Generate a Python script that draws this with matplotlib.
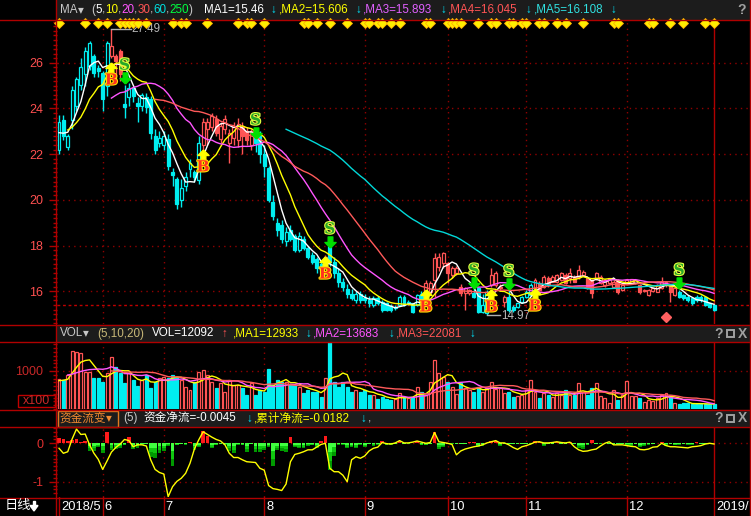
import numpy as np
import pandas as pd
import matplotlib
matplotlib.use("Agg")
import matplotlib.pyplot as plt
import matplotlib.patheffects as pe
from matplotlib.patches import Rectangle, Polygon
from matplotlib.path import Path
from matplotlib.transforms import offset_copy
from matplotlib.ticker import MultipleLocator

# ---- daily bars, 2018/5 .. 2019/1 (index 0..150) ----
opens = [
    22.2, 23.5, 22.3, 23.5, 24.1, 25.05, 25.5, 25.85, 26.29, 25.78,
    25.56, 24.98, 26.3, 26.3, 26.5, 24.2, 24.5, 24.9, 24.25, 24.1,
    24.5, 24.4, 22.8, 22.5, 22.4, 22.65, 21.2, 20.9, 20.0, 20.6,
    21.35, 21.2, 20.85, 22.4, 23.1, 23.2, 23.53, 22.65, 23.09, 22.5,
    22.7, 22.6, 23.2, 23.0, 22.4, 22.9, 22.8, 22.0, 21.4, 19.9,
    19.0, 18.9, 18.2, 18.7, 18.4, 17.8, 18.3, 17.9, 17.6, 17.4,
    17.2, 16.8, 18.0, 17.3, 16.8, 16.4, 16.1, 15.9, 15.6, 15.9,
    15.7, 15.6, 15.4, 15.7, 15.55, 15.47, 15.36, 15.26, 15.4, 15.77,
    15.47, 15.47, 15.4, 15.9, 15.84, 15.98, 16.49, 17.08, 17.22, 17.22,
    16.71, 16.79, 16.2, 15.91, 15.91, 15.91, 16.13, 15.11, 15.05, 16.28,
    16.28, 16.13, 15.55, 15.77, 15.33, 15.33, 15.55, 15.77, 15.84, 16.13,
    16.35, 16.2, 16.57, 16.42, 16.42, 16.49, 16.71, 16.57, 16.64, 16.64,
    16.71, 16.57, 16.49, 16.57, 16.35, 16.28, 16.35, 16.2, 16.49, 16.06,
    16.32, 16.35, 16.35, 16.28, 16.0, 15.84, 16.0, 15.98, 16.13, 16.28,
    16.28, 15.84, 15.98, 15.84, 15.77, 15.69, 15.77, 15.77, 15.77, 15.47,
    15.4]
highs = [
    23.7, 23.7, 22.9, 25.0, 25.4, 26.2, 26.7, 26.95, 26.4, 25.9,
    25.64, 26.95, 27.49, 26.4, 26.6, 25.05, 25.1, 25.0, 24.5, 24.7,
    24.7, 24.54, 23.1, 23.0, 23.0, 22.9, 21.4, 21.0, 20.9, 21.2,
    21.8, 21.3, 22.8, 23.6, 23.6, 23.8, 23.7, 23.4, 23.7, 23.1,
    23.4, 23.6, 23.4, 23.2, 23.1, 22.85, 23.0, 22.4, 21.5, 20.2,
    19.2, 19.1, 18.8, 18.9, 18.5, 18.6, 18.4, 18.0, 17.7, 17.5,
    17.3, 17.6, 18.1, 17.5, 17.0, 16.6, 16.3, 16.1, 16.0, 16.0,
    15.9, 15.8, 15.8, 15.8, 15.6, 15.55, 15.45, 15.38, 15.85, 15.85,
    15.6, 15.5, 15.9, 16.0, 16.5, 16.45, 17.66, 17.66, 17.73, 17.3,
    17.1, 17.1, 16.3, 16.2, 16.1, 16.13, 16.2, 15.9, 16.05, 17.0,
    16.9, 16.3, 15.85, 16.06, 15.4, 15.5, 15.8, 16.05, 16.35, 16.6,
    16.45, 16.7, 16.65, 16.7, 16.75, 16.85, 16.8, 17.0, 16.7, 17.15,
    16.95, 16.6, 16.55, 16.85, 16.7, 16.55, 16.6, 16.5, 16.55, 16.32,
    16.55, 16.55, 16.55, 16.3, 16.1, 16.1, 16.2, 16.32, 16.64, 16.45,
    16.3, 16.2, 16.05, 15.9, 15.85, 15.75, 15.82, 15.82, 15.8, 15.5,
    15.45]
lows = [
    22.0, 22.6, 22.2, 23.1, 23.9, 24.8, 25.0, 25.7, 25.4, 25.4,
    23.89, 24.54, 26.2, 25.3, 25.2, 23.6, 24.1, 24.3, 23.4, 23.9,
    23.8, 22.65, 22.0, 22.3, 22.2, 21.3, 20.6, 19.6, 19.7, 20.4,
    21.0, 20.8, 20.7, 22.2, 22.4, 23.0, 22.8, 22.5, 22.9, 21.6,
    22.4, 22.3, 22.0, 22.4, 22.2, 22.1, 21.6, 21.0, 19.9, 19.1,
    18.4, 18.1, 18.0, 18.2, 17.7, 17.7, 17.8, 17.4, 17.2, 16.8,
    16.8, 16.7, 17.1, 16.6, 16.2, 16.0, 15.7, 15.6, 15.5, 15.5,
    15.5, 15.3, 15.3, 15.4, 15.1, 15.15, 15.1, 15.2, 15.35, 15.35,
    15.4, 15.05, 15.35, 15.5, 15.7, 15.9, 15.77, 16.9, 17.0, 16.35,
    16.6, 16.7, 15.8, 15.18, 15.85, 15.7, 15.05, 15.04, 14.97, 16.2,
    16.2, 16.0, 15.33, 15.11, 15.1, 15.25, 15.5, 15.7, 15.8, 16.05,
    16.0, 16.15, 16.2, 16.4, 16.35, 16.45, 16.3, 16.35, 16.4, 16.55,
    16.65, 16.1, 15.69, 16.5, 16.3, 16.2, 16.3, 16.15, 15.9, 16.0,
    16.3, 16.3, 16.3, 15.9, 15.95, 15.8, 15.95, 15.95, 16.1, 16.2,
    15.55, 15.8, 15.7, 15.6, 15.55, 15.4, 15.55, 15.55, 15.35, 15.28,
    15.15]
closes = [
    23.4, 22.8, 22.8, 24.8, 25.3, 25.8, 26.5, 26.87, 25.56, 25.64,
    24.4, 26.87, 26.75, 26.1, 25.5, 24.05, 24.9, 24.55, 24.1, 24.6,
    24.05, 22.94, 22.2, 22.72, 22.8, 21.5, 21.1, 19.8, 20.5, 21.0,
    21.6, 21.0, 22.5, 23.4, 23.4, 23.67, 22.94, 23.23, 23.53, 22.94,
    23.2, 23.3, 22.8, 22.6, 23.0, 22.5, 22.0, 21.5, 20.0, 19.3,
    18.7, 18.3, 18.6, 18.3, 17.8, 18.4, 17.9, 17.5, 17.3, 17.0,
    16.9, 17.5, 17.3, 16.8, 16.4, 16.2, 15.9, 15.7, 15.9, 15.6,
    15.6, 15.5, 15.7, 15.5, 15.18, 15.18, 15.18, 15.33, 15.77, 15.4,
    15.55, 15.11, 15.84, 15.55, 16.35, 16.35, 17.44, 17.52, 17.66, 16.79,
    17.0, 17.0, 15.91, 16.13, 16.06, 15.77, 15.11, 15.4, 15.98, 16.71,
    16.79, 16.2, 15.77, 15.18, 15.18, 15.47, 15.77, 15.98, 16.28, 16.49,
    16.06, 16.64, 16.28, 16.64, 16.71, 16.79, 16.35, 16.79, 16.42, 16.93,
    16.86, 16.13, 15.91, 16.79, 16.64, 16.49, 16.57, 16.42, 15.98, 16.28,
    16.49, 16.52, 16.49, 15.98, 16.06, 16.06, 16.13, 16.28, 16.42, 16.42,
    15.98, 16.13, 15.77, 15.69, 15.62, 15.47, 15.62, 15.62, 15.4, 15.33,
    15.18]
# volume in x100 units
volumes = [
    781, 763, 895, 1526, 1509, 1465, 982, 982, 807, 807,
    719, 939, 1360, 1114, 939, 675, 939, 763, 605, 763,
    895, 544, 719, 807, 851, 807, 895, 851, 763, 588,
    500, 719, 982, 1026, 895, 719, 544, 675, 456, 763,
    632, 632, 544, 368, 675, 368, 500, 456, 1044, 632,
    763, 719, 719, 632, 632, 588, 412, 500, 456, 456,
    325, 807, 1900, 719, 588, 719, 588, 456, 500, 456,
    500, 368, 368, 263, 325, 263, 237, 254, 412, 307,
    280, 307, 588, 456, 368, 719, 1289, 939, 851, 719,
    588, 395, 693, 544, 500, 456, 588, 456, 544, 719,
    518, 544, 430, 456, 325, 342, 368, 500, 763, 456,
    280, 412, 370, 325, 412, 368, 500, 368, 368, 693,
    456, 368, 544, 675, 342, 280, 167, 500, 237, 368,
    737, 330, 330, 290, 180, 230, 215, 290, 380, 420,
    362, 150, 140, 145, 150, 137, 130, 140, 125, 131,
    120.92]
# 资金净流 (bars) and 累计净流 (line)
flow_bars = [
    0.15, 0.12, 0.05, 0.08, 0.10, 0.04, 0.05, -0.20, -0.20, -0.10,
    -0.25, 0.30, -0.17, -0.15, -0.12, -0.05, 0.17, -0.15, -0.12, -0.04,
    -0.03, -0.35, -0.38, -0.25, -0.20, -0.08, -0.60, -0.05, -0.03, -0.04,
    0.04, -0.18, -0.10, 0.33, 0.20, -0.13, -0.05, -0.03, -0.04, -0.20,
    -0.25, -0.04, -0.05, -0.22, -0.02, -0.23, -0.22, -0.18, -0.10, -0.60,
    -0.18, -0.20, -0.22, 0.16, -0.10, -0.13, -0.13, -0.06, -0.05, -0.12,
    0.05, 0.18, -0.70, -0.33, -0.04, -0.04, -0.13, -0.10, -0.13, -0.04,
    -0.10, -0.02, -0.08, -0.04, 0.05, -0.05, -0.04, -0.02, 0.05, -0.02,
    -0.01, 0.01, 0.06, -0.05, -0.05, -0.02, 0.30, -0.15, -0.10, -0.02,
    -0.01, -0.03, -0.02, -0.02, 0.03, 0.03, -0.10, -0.08, 0.02, 0.06,
    0.05, -0.08, -0.02, -0.02, -0.03, -0.02, -0.02, -0.02, -0.01, 0.05,
    0.04, -0.06, -0.02, -0.02, 0.04, -0.02, -0.02, 0.03, -0.03, -0.12,
    -0.14, -0.05, 0.08, -0.02, -0.01, 0.02, -0.02, -0.02, -0.02, -0.03,
    -0.08, -0.06, -0.02, -0.10, -0.06, -0.04, -0.03, 0.02, 0.03, -0.06,
    -0.03, -0.05, -0.04, -0.03, -0.04, -0.04, 0.04, -0.02, -0.02, -0.01,
    -0.0045]
flow_line = [
    -0.13, -0.26, -0.22, 0.11, 0.37, 0.23, 0.24, -0.04, -0.26, -0.42,
    -0.68, -0.46, -0.23, -0.11, -0.02, 0.10, 0.07, -0.09, -0.04, -0.04,
    -0.07, -0.43, -0.68, -0.76, -0.80, -1.39, -1.13, -0.99, -0.91, -0.78,
    -0.52, -0.15, 0.09, 0.30, 0.23, 0.16, 0.10, 0.06, -0.04, -0.26,
    -0.37, -0.37, -0.43, -0.48, -0.49, -0.50, -0.65, -0.70, -1.10, -1.18,
    -1.20, -1.23, -1.06, -0.48, -0.29, -0.26, -0.22, -0.17, -0.17, -0.10,
    -0.03, 0.00, -0.65, -0.74, -0.74, -0.83, -1.00, -0.43, -0.35, -0.39,
    -0.33, -0.20, -0.13, -0.10, 0.02, -0.01, -0.02, 0.01, 0.07, 0.01,
    0.01, 0.03, 0.06, 0.03, 0.00, 0.02, 0.28, 0.04, 0.02, 0.00,
    -0.03, -0.30, -0.20, -0.15, -0.12, -0.09, -0.07, -0.04, 0.01, 0.04,
    0.07, 0.01, 0.01, -0.04, -0.11, -0.16, -0.09, -0.06, -0.02, 0.03,
    0.04, 0.01, 0.01, 0.02, 0.04, 0.02, 0.01, 0.03, -0.09, -0.17,
    -0.21, -0.20, -0.17, -0.15, -0.07, 0.00, 0.04, -0.04, -0.04, -0.04,
    -0.06, -0.08, -0.09, -0.16, -0.17, -0.15, -0.10, -0.09, 0.00, -0.06,
    -0.09, -0.09, -0.10, -0.11, -0.12, -0.09, -0.08, -0.06, -0.02, 0.00,
    -0.0182]

# bars before the visible window (feed the moving averages)
hidden_closes = [23.6, 23.3, 23.4, 22.9, 22.6, 23.0, 22.8]
hidden_volumes = [1300, 1150, 1117, 700, 780, 720, 744]

ma_windows = [5, 10, 20, 30, 60]
vol_windows = [5, 10, 20]

buy_idx = [12, 33, 61, 84, 99, 109]
buy_arrow = [25.77, 21.97, 17.28, 15.84, 15.84, 15.88]
sell_idx = [15, 45, 62, 95, 103, 142]
sell_arrow = [25.33, 22.93, 18.16, 16.35, 16.30, 16.35]
diamond_idx = [0, 6, 9, 11, 14, 15, 16, 17, 18, 20, 26, 28, 29, 34, 41, 43, 44,
               47, 56, 57, 59, 62, 66, 70, 71, 73, 74, 76, 78, 84, 85, 89, 90,
               91, 92, 96, 99, 100, 103, 104, 106, 107, 110, 111, 114, 116, 120,
               127, 128, 135, 136, 140, 143, 148, 150]
pink_mark = (139, 14.88)
ref_level = 15.40
high_mark = (12, 27.49)
low_mark = (98, 14.97)

month_idx = [0, 10, 24, 47, 70, 89, 107, 130, 150]
month_labels = ["2018/5", "6", "7", "8", "9", "10", "11", "12", "2019/"]
price_ticks = [16, 18, 20, 22, 24, 26]

# ---- colours ----
RED = "#ff5454"
CYAN = "#00eef0"
BORDER = "#b00000"
GRID = "#900000"
LBL = "#ff5050"
ma_colors = ["#ffffff", "#ffff00", "#ff55ff", "#ff5a5a", "#00d8d8"]
vol_colors = ["#ffff00", "#ff55ff", "#ff5a5a"]
HF = ["Liberation Sans", "Noto Sans CJK SC", "DejaVu Sans"]

W, H = 751, 516
fig = plt.figure(figsize=(W / 100, H / 100), dpi=100)
fig.patch.set_facecolor("black")
n = len(closes)
x = np.arange(n)


def fline(xs, ys, color=BORDER, lw=1.0, **kw):
    fig.add_artist(plt.Line2D([v / W for v in xs], [1 - v / H for v in ys],
                              color=color, lw=lw, transform=fig.transFigure, **kw))


def panel(top, bottom):
    ax = fig.add_axes([57 / W, 1 - bottom / H, (749 - 57) / W, (bottom - top) / H])
    ax.set_facecolor("black")
    for s in ax.spines.values():
        s.set_visible(False)
    ax.set_xlim((57 - 59) / 4.367, (749 - 59) / 4.367)
    ax.tick_params(axis="x", which="both", bottom=False, labelbottom=False)
    ax.tick_params(axis="y", which="major", length=6, width=1, color=BORDER,
                   labelcolor=LBL, labelsize=9, pad=4)
    ax.tick_params(axis="y", which="minor", length=3, width=1, color=BORDER)
    return ax


def month_grid(ax):
    for m in month_idx[1:-1]:
        ax.axvline(m, color=GRID, lw=1, ls=(0, (1, 3)), zorder=0)
    ax.axvline(month_idx[-1], color=BORDER, lw=1, zorder=0)


state = []
cur = "sell"
for i in range(n):
    if i in buy_idx:
        cur = "buy"
    if i in sell_idx:
        cur = "sell"
    state.append(cur)
kcol = [RED if s == "buy" else CYAN for s in state]

# ---- main price panel ----
ax = panel(20, 324)
ax.set_ylim(14.569, 27.873)
ax.set_yticks(price_ticks)
ax.set_yticklabels([str(t) for t in price_ticks], family=HF)
ax.yaxis.set_minor_locator(MultipleLocator(0.2))
for t in price_ticks:
    ax.axhline(t, color=GRID, lw=1, ls=(0, (1, 3)), zorder=0)
ax.axhline(ref_level, color="#c00000", lw=1, ls=(0, (2, 2)), zorder=0)
month_grid(ax)

o = np.array(opens); c = np.array(closes)
ax.vlines(x, lows, highs, colors=kcol, lw=1, zorder=2)
up = c >= o
ax.bar(x, np.maximum(np.abs(c - o), 0.03), bottom=np.minimum(o, c), width=0.68,
       color=["black" if u else k for u, k in zip(up, kcol)], edgecolor=kcol,
       lw=0.9, zorder=3)

allc = pd.Series(hidden_closes + closes)
k0 = len(hidden_closes)
for w, col in zip(ma_windows, ma_colors):
    ma = allc.rolling(w).mean().to_numpy()[k0:]
    ax.plot(x, ma, color=col, lw=1, zorder=4)

ax.plot(diamond_idx, [0.99] * len(diamond_idx), ls="none", marker="D", ms=5.5,
        mfc="#ffee00", mec="#ffb000", mew=0.6, transform=ax.get_xaxis_transform(),
        clip_on=False, zorder=6)
ax.plot(*pink_mark, marker="D", ms=5, color="#ff6060", zorder=6)

arrow = [(0, 1), (1, 0), (0.42, 0), (0.42, -1), (-0.42, -1), (-0.42, 0), (-1, 0), (0, 1)]
up_arrow = Path(arrow)
dn_arrow = Path([(a, -b) for a, b in arrow])
for i, p in zip(buy_idx, buy_arrow):
    ax.plot(i, p, marker=up_arrow, ms=8, color="#ffff00", zorder=7)
    ax.annotate("B", (i, p), xytext=(0, -9), textcoords="offset points", ha="center",
                va="center", fontsize=11, fontweight="bold", family="DejaVu Serif",
                color="#ff3020", zorder=8,
                path_effects=[pe.withStroke(linewidth=1.6, foreground="#ffe000")])
for i, p in zip(sell_idx, sell_arrow):
    ax.plot(i, p, marker=dn_arrow, ms=8, color="#00e000", zorder=7)
    ax.annotate("S", (i, p), xytext=(0, 9), textcoords="offset points", ha="center",
                va="center", fontsize=11, fontweight="bold", family="DejaVu Serif",
                color="#28a828", zorder=8,
                path_effects=[pe.withStroke(linewidth=1.6, foreground="#e8ff40")])

for (mi, mp), dx, dy in [(high_mark, 4.4, 0.0), (low_mark, 3.0, -0.06)]:
    ax.plot([mi, mi + dx], [mp, mp], color="#b0b0b0", lw=1, zorder=5)
    ax.text(mi + dx + 0.2, mp + dy, f"{mp:.2f}", color="#b8b8b8", fontsize=8.4,
            family=HF, va="center", ha="left", zorder=5)

# ---- volume panel ----
axv = panel(342, 409)
axv.set_ylim(0, 1763)
axv.set_yticks([1000])
axv.set_yticklabels(["1000"], family=HF, color="#c82828")
axv.yaxis.set_minor_locator(MultipleLocator(100))
axv.axhline(1000, color=GRID, lw=1, ls=(0, (1, 3)), zorder=0)
month_grid(axv)
vup = [cc >= oo for cc, oo in zip(closes, opens)]
axv.bar(x, volumes, width=0.68, color=["black" if u else CYAN for u in vup],
        edgecolor=[RED if u else CYAN for u in vup], lw=0.9, zorder=2)
allv = pd.Series(hidden_volumes + volumes)
for w, col in zip(vol_windows, vol_colors):
    axv.plot(x, allv.rolling(w).mean().to_numpy()[k0:], color=col, lw=1, zorder=3)

# ---- fund flow panel ----
axf = panel(427, 497)
axf.set_ylim(-1.398, 0.424)
axf.set_yticks([-1, 0])
axf.set_yticklabels(["-1", "0"], family=HF, color="#e03030")
axf.yaxis.set_minor_locator(MultipleLocator(0.1))
for t in [-1, 0]:
    axf.axhline(t, color=GRID, lw=1, ls=(0, (1, 3)), zorder=0)
month_grid(axf)
fb = np.array(flow_bars)
pos = np.where(fb > 0, fb, 0)
neg = np.where(fb < 0, fb, 0)
axf.bar(x, pos, width=0.85, color="#ff1a1a", zorder=2)
for frac, col in [(1.0, "#009a00"), (0.66, "#10c810"), (0.33, "#40ff40")]:
    axf.bar(x, neg * frac, width=0.85, color=col, zorder=2)
axf.plot(x, flow_line, color="#ffff00", lw=1, zorder=3)

# ---- date strip ----
axd = fig.add_axes([57 / W, 0, (749 - 57) / W, 19 / H])
axd.set_facecolor("black")
axd.set_axis_off()
axd.set_xlim(ax.get_xlim())
axd.set_ylim(0, 1)
tr = offset_copy(axd.transData, fig=fig, x=2, y=0, units="dots")
for m, lab in zip(month_idx, month_labels):
    axd.axvline(m, color=BORDER, lw=1)
    axd.text(m, 0.5, lab, transform=tr, color="white", fontsize=9.3, family=HF,
             va="center", ha="left")
fig.text(5 / W, 1 - 506 / H, "日线", color="white", fontsize=9.5, family=HF, va="center")
fig.add_artist(Polygon([((30 + a * 4) / W, 1 - (506 - b * 5) / H) for a, b in
                        [(1, 1), (1, 0.1), (2, 0.1), (1, -1), (0, 0.1), (1, 0.1), (1, 1)]],
                       closed=True, transform=fig.transFigure, color="white"))
fig.add_artist(Rectangle((32.8 / W, 1 - 506.5 / H), 2.4 / W, 5.5 / H,
                         transform=fig.transFigure, color="white"))

# ---- header bands and borders ----
for top, bot in [(0, 19), (325, 341), (410, 426)]:
    fig.add_artist(Rectangle((57 / W, 1 - bot / H), (749 - 57) / W, (bot - top) / H,
                             transform=fig.transFigure, color="#1c1c1c", zorder=0))
fline([0, W], [19.5, 19.5])
for yy in [324.5, 341.5, 409.5, 426.5, 497.5]:
    fline([0, W], [yy, yy])
fline([56.5, 56.5], [0, H])
fline([749.5, 749.5], [0, H])

renderer = fig.canvas.get_renderer()


def seq(x0, y0, pieces, size=8.4):
    for s, col in pieces:
        t = fig.text(x0 / W, 1 - y0 / H, s, color=col, fontsize=size, family=HF,
                     va="center", ha="left")
        x0 += t.get_window_extent(renderer).width
    return x0


G = "#c8c8c8"
seq(60, 10, [("MA", G), ("▾", G)])
seq(91, 10, [("(", G), ("5", "white"), (",", G), ("10", "#ffff00"), (",", G),
             ("20", "#ff55ff"), (",", G), ("30", RED), (",", G), ("60", "#00e0e0"),
             (",", G), ("250", "#00ff40"), (")", G)])
seq(204, 10, [("MA1=15.46", "white")])
seq(279, 10, [(",MA2=15.606", "#ffff00")])
seq(363, 10, [(",MA3=15.893", "#e060ff")])
seq(448, 10, [(",MA4=16.045", RED)])
seq(534, 10, [(",MA5=16.108", "#30e0e0")])
for ax_ in [270, 355, 440, 525, 610]:
    seq(ax_, 10, [("↓", "#00e8ff")])

seq(60, 333.5, [("VOL", G), ("▾", G)])
seq(97, 333.5, [("(5,10,20)", "#c8b878")])
seq(152, 333.5, [("VOL=12092", "white")])
seq(221, 333.5, [("↑", RED)])
seq(233, 333.5, [(",MA1=12933", "#ffff00")])
seq(313, 333.5, [(",MA2=13683", "#ff55ff")])
seq(396, 333.5, [(",MA3=22081", RED)])
for ax_ in [305, 388, 469]:
    seq(ax_, 333.5, [("↓", "#00e8ff")])

fig.add_artist(Rectangle((57.5 / W, 1 - 426.5 / H), 60 / W, 16 / H, transform=fig.transFigure,
                         fill=False, edgecolor="#e07a20", lw=1))
seq(59, 418.5, [("资金流变", "#f08a30"), ("▾", "#f08a30")])
seq(123, 418.5, [("(5)", G)])
seq(143, 418.5, [("资金净流=-0.0045", "white")])
seq(254, 418.5, [(",累计净流=-0.0182", "#ffff00")])
seq(368, 418.5, [(",", G)])
for ax_ in [246, 360]:
    seq(ax_, 418.5, [("↓", "#00e8ff")])

ICON = "#a0a0a0"
fig.text(742 / W, 1 - 10 / H, "?", color=ICON, fontsize=10, fontweight="bold",
         family=HF, va="center", ha="center")
for yc in [333.5, 418.5]:
    fig.text(718.5 / W, 1 - yc / H, "?", color=ICON, fontsize=10, fontweight="bold",
             family=HF, va="center", ha="center")
    fig.add_artist(Rectangle((727 / W, 1 - (yc + 3.5) / H), 7 / W, 7 / H,
                             transform=fig.transFigure, fill=False, edgecolor=ICON, lw=1.4))
    fig.text(742 / W, 1 - yc / H, "X", color=ICON, fontsize=10, fontweight="bold",
             family=HF, va="center", ha="center")

# x100 unit box
fig.add_artist(Rectangle((18 / W, 1 - 407 / H), 37 / W, 12 / H, transform=fig.transFigure,
                         fill=False, edgecolor="#c00000", lw=1))
fig.text(36.5 / W, 1 - 401 / H, "x100", color="#c82828", fontsize=9, family=HF,
         va="center", ha="center")

fig.savefig("out.png", dpi=100, facecolor="black")
